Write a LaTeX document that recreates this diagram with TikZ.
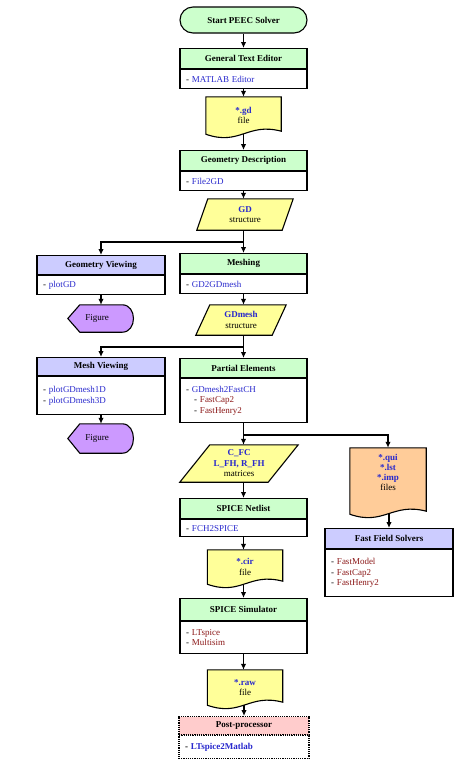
\documentclass[tikz,border=0pt]{standalone}
\usepackage{fontspec}
\setmainfont{Liberation Serif}
\usetikzlibrary{arrows.meta,calc,backgrounds}
\definecolor{hgreen}{RGB}{204,255,204}
\definecolor{hblue}{RGB}{204,204,255}
\definecolor{fyellow}{RGB}{255,255,153}
\definecolor{forange}{RGB}{255,204,153}
\definecolor{fpurple}{RGB}{204,153,255}
\definecolor{hpink}{RGB}{255,204,204}
\definecolor{tblue}{RGB}{40,40,205}
\definecolor{tred}{RGB}{140,25,25}
\newcommand{\blu}[1]{\textcolor{tblue}{#1}}
\newcommand{\rdd}[1]{\textcolor{tred}{#1}}
\begin{document}
\begin{tikzpicture}[x=1pt,y=-1pt,
  txt/.style={font=\fontsize{9}{10.5}\selectfont},
  hdr/.style={txt, draw, line width=1.1pt, anchor=north, minimum width=127pt, inner sep=0pt, font=\fontsize{9}{10.5}\selectfont\bfseries},
  bdy/.style={txt, draw, line width=1.1pt, fill=white, anchor=north, text width=115pt, inner xsep=6pt, inner ysep=0pt, align=left},
  shp/.style={txt, inner sep=0pt, align=center},
  outl/.style={draw, line width=1.1pt},
  arr/.style={line width=1.5pt, -{Latex[length=6pt,width=5.5pt]}},
  dotb/.style={dash pattern=on 1.2pt off 1pt}]
\useasboundingbox (0,0) rectangle (474,761);
\begin{scope}[on background layer]
\fill[white] (0,0) rectangle (474,761);
\end{scope}

% ---------- main column ----------
\node[txt, draw, line width=1.1pt, fill=hgreen, rounded corners=13pt, minimum width=127pt, minimum height=26pt, font=\fontsize{9}{10.5}\selectfont\bfseries] (start) at (243.5,20) {Start PEEC Solver};

\node[hdr, fill=hgreen, minimum height=20pt] (gteH) at (243.5,48) {General Text Editor};
\node[bdy, minimum height=19pt] (gteB) at (gteH.south) {- \blu{MATLAB Editor}};

\node[shp, minimum width=75pt, minimum height=37pt] (gd) at (243.5,115.5) {\textbf{\blu{*.gd}}\\ file};

\node[hdr, fill=hgreen, minimum height=20pt] (gdH) at (243.5,150) {Geometry Description};
\node[bdy, minimum height=19pt] (gdB) at (gdH.south) {- \blu{File2GD}};

\node[shp, minimum width=96pt, minimum height=31pt] (gdp) at (245,214.5) {\textbf{\blu{GD}}\\ structure};

\node[hdr, fill=hgreen, minimum height=20pt] (meshH) at (243.5,253) {Meshing};
\node[bdy, minimum height=19pt] (meshB) at (meshH.south) {- \blu{GD2GDmesh}};

\node[shp, minimum width=90pt, minimum height=30pt] (gdmp) at (241,320) {\textbf{\blu{GDmesh}}\\ structure};

\node[hdr, fill=hgreen, minimum height=19pt] (peH) at (243.5,358) {Partial Elements};
\node[bdy, minimum height=44pt] (peB) at (peH.south) {- \blu{GDmesh2FastCH}\\ \hspace*{8pt}- \rdd{FastCap2}\\ \hspace*{8pt}- \rdd{FastHenry2}};

\node[shp, minimum width=118pt, minimum height=37pt] (cfc) at (239,463.5) {\textbf{\blu{C\_FC}}\\ \textbf{\blu{L\_FH, R\_FH}}\\ matrices};

\node[hdr, fill=hgreen, minimum height=20pt] (snH) at (243.5,498) {SPICE Netlist};
\node[bdy, minimum height=17pt] (snB) at (snH.south) {- \blu{FCH2SPICE}};

\node[shp, minimum width=75pt, minimum height=34pt] (cir) at (245,567) {\textbf{\blu{*.cir}}\\ file};

\node[hdr, fill=hgreen, minimum height=22pt] (ssH) at (243.5,598) {SPICE Simulator};
\node[bdy, minimum height=32pt] (ssB) at (ssH.south) {- \rdd{LTspice}\\ - \rdd{Multisim}};

\node[shp, minimum width=75pt, minimum height=35pt] (raw) at (245,687.5) {\textbf{\blu{*.raw}}\\ file};

\node[hdr, fill=hpink, dotb, minimum width=130pt, minimum height=18pt] (ppH) at (244,716) {Post-processor};
\node[bdy, dotb, text width=118pt, minimum height=23pt] (ppB) at (ppH.south) {\textbf{- \blu{LTspice2Matlab}}};

% ---------- left column ----------
\node[hdr, fill=hblue, minimum width=128pt, minimum height=19pt] (gvH) at (101,255) {Geometry Viewing};
\node[bdy, text width=116pt, minimum height=19pt] (gvB) at (gvH.south) {- \blu{plotGD}};

\node[shp, minimum width=66pt, minimum height=27pt] (fig1) at (101,318.5) {\hspace*{-8pt}Figure};

\node[hdr, fill=hblue, minimum width=128pt, minimum height=18pt] (mvH) at (101,357) {Mesh Viewing};
\node[bdy, text width=116pt, minimum height=38pt] (mvB) at (mvH.south) {- \blu{plotGDmesh1D}\\ - \blu{plotGDmesh3D}};

\node[shp, minimum width=66pt, minimum height=29pt] (fig2) at (101,438.5) {\hspace*{-8pt}Figure};

% ---------- right column ----------
\node[shp, minimum width=76pt, minimum height=66pt] (qf) at (388,481) {};
\node[txt, inner sep=0pt, align=center, anchor=north, font=\fontsize{9}{10.2}\selectfont] (qft) at ([yshift=-6pt]qf.north) {\textbf{\blu{*.qui}}\\ \textbf{\blu{*.lst}}\\ \textbf{\blu{*.imp}}\\ files};

\node[hdr, fill=hblue, minimum width=128pt, minimum height=20pt] (ffsH) at (389,528) {Fast Field Solvers};
\node[bdy, text width=116pt, minimum height=47pt] (ffsB) at (ffsH.south) {- \rdd{FastModel}\\ - \rdd{FastCap2}\\ - \rdd{FastHenry2}};

% ---------- shapes behind texts ----------
\begin{scope}[on background layer]
\foreach \n/\c in {gd/fyellow,cir/fyellow,raw/fyellow,qf/forange}{
  \draw[outl, fill=\c] (\n.south west) .. controls ([xshift=34pt,yshift=-12pt]\n.south west) and ([xshift=-34pt,yshift=12pt]\n.south east) .. ([yshift=3pt]\n.south east) -- (\n.north east) -- (\n.north west) -- cycle;
}
\foreach \n/\s in {gdp/11pt,gdmp/14pt,cfc/30pt}{
  \draw[outl, fill=fyellow] ([xshift=\s]\n.north west) -- (\n.north east) -- ([xshift=-\s]\n.south east) -- (\n.south west) -- cycle;
}
\foreach \n in {fig1,fig2}{
  \draw[outl, fill=fpurple] (\n.west) -- ([xshift=12pt]\n.north west) -- ([xshift=-12pt]\n.north east) .. controls ([xshift=3pt]\n.north east) and ([xshift=3pt]\n.south east) .. ([xshift=-12pt]\n.south east) -- ([xshift=12pt]\n.south west) -- cycle;
}
\end{scope}

% ---------- connectors ----------
\coordinate (br1) at (243.5,242);
\coordinate (br2) at (243.5,347);
\coordinate (br3) at (243.5,435);

\draw[arr] (start.south) -- (gteH.north);
\draw[arr] (gteB.south) -- (gteB.south |- gd.north);
\draw[arr] (gd.south -| gdH.north) -- (gdH.north);
\draw[arr] (gdB.south) -- (gdB.south |- gdp.north);
\draw[arr] (gdp.south -| meshH.north) -- (meshH.north);
\draw[arr] (br1) -| (gvH.north);
\draw[arr] (gvB.south) -- (fig1.north);
\draw[arr] (meshB.south) -- (meshB.south |- gdmp.north);
\draw[arr] (gdmp.south -| peH.north) -- (peH.north);
\draw[arr] (br2) -| (mvH.north);
\draw[arr] (mvB.south) -- (fig2.north);
\draw[arr] (peB.south) -- (peB.south |- cfc.north);
\draw[arr] (br3) -| (qf.north);
\draw[arr] (qf.south -| ffsH.north) -- (ffsH.north);
\draw[arr] (cfc.south -| snH.north) -- (snH.north);
\draw[arr] (snB.south) -- (snB.south |- cir.north);
\draw[arr] (cir.south -| ssH.north) -- (ssH.north);
\draw[arr] (ssB.south) -- (ssB.south |- raw.north);
\draw[arr] (raw.south -| ppH.north) -- (ppH.north);
\end{tikzpicture}
\end{document}
